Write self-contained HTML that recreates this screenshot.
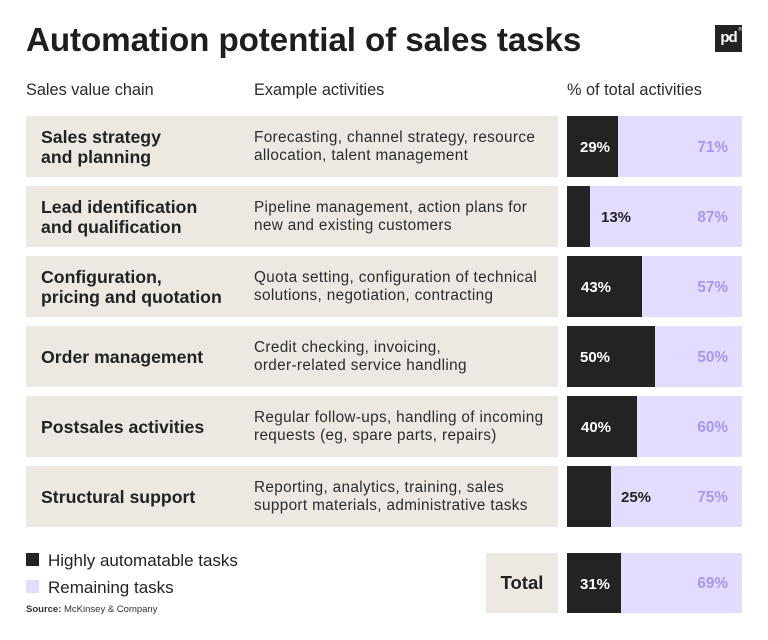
<!DOCTYPE html>
<html>
<head>
<meta charset="utf-8">
<style>
  html, body { margin:0; padding:0; background:#fff; }
  body { width:768px; height:640px; position:relative; overflow:hidden;
         font-family:"Liberation Sans", "DejaVu Sans", sans-serif; color:#222; }
  .abs { position:absolute; }
  .title { left:26px; top:22px; font-size:33.2px; font-weight:bold; letter-spacing:-0.1px; color:#1e1e1e; white-space:nowrap; }
  .logo { left:715px; top:25px; width:27px; height:27px; background:#232323; color:#fff;
          font-size:15px; font-weight:bold; text-align:center; line-height:25px; letter-spacing:-1px; }
  .logo sup { position:absolute; right:1px; top:-7px; font-size:5px; font-weight:normal; }
  .hdr { top:81px; font-size:16.3px; color:#2a2a2a; white-space:nowrap; }
  .cell { background:#ede9e2; }
  .lbl { left:26px; width:532px; height:61px; }
  .lbl .n { position:absolute; left:15px; top:0; height:61px; display:flex; align-items:center;
            font-size:17.7px; font-weight:bold; line-height:20px; color:#222; }
  .lbl .a { position:absolute; left:228px; top:0; height:61px; display:flex; align-items:center;
            font-size:15.3px; line-height:18px; letter-spacing:0.35px; color:#2b2b2b; }
  .bar { left:567px; width:175px; height:61px; background:#e4dcff; }
  .dk { position:absolute; left:0; top:0; height:100%; background:#232323; }
  .pw { position:absolute; top:1px; height:100%; display:flex; align-items:center; font-size:15px; font-weight:bold; }
  .pr { position:absolute; right:14px; top:1px; height:100%; display:flex; align-items:center; font-size:15.3px; font-weight:bold; color:#a597f1; }
  .leg { left:48px; font-size:17px; color:#222; white-space:nowrap; }
  .sq { left:26px; width:13px; height:13px; }
</style>
</head>
<body>
  <div class="abs title">Automation potential of sales tasks</div>
  <div class="abs logo">pd<sup>®</sup></div>

  <div class="abs hdr" style="left:26px;">Sales value chain</div>
  <div class="abs hdr" style="left:254px;">Example activities</div>
  <div class="abs hdr" style="left:567px;">% of total activities</div>

  <!-- Row 1 -->
  <div class="abs cell lbl" style="top:116px;">
    <div class="n">Sales strategy<br>and planning</div>
    <div class="a">Forecasting, channel strategy, resource<br>allocation, talent management</div>
  </div>
  <div class="abs bar" style="top:116px;">
    <div class="dk" style="width:51px;"></div>
    <div class="pw" style="left:13px;color:#fff;">29%</div>
    <div class="pr">71%</div>
  </div>

  <!-- Row 2 -->
  <div class="abs cell lbl" style="top:186px;">
    <div class="n">Lead identification<br>and qualification</div>
    <div class="a">Pipeline management, action plans for<br>new and existing customers</div>
  </div>
  <div class="abs bar" style="top:186px;">
    <div class="dk" style="width:23px;"></div>
    <div class="pw" style="left:34px;color:#222;">13%</div>
    <div class="pr">87%</div>
  </div>

  <!-- Row 3 -->
  <div class="abs cell lbl" style="top:256px;">
    <div class="n">Configuration,<br>pricing and quotation</div>
    <div class="a">Quota setting, configuration of technical<br>solutions, negotiation, contracting</div>
  </div>
  <div class="abs bar" style="top:256px;">
    <div class="dk" style="width:75px;"></div>
    <div class="pw" style="left:14px;color:#fff;">43%</div>
    <div class="pr">57%</div>
  </div>

  <!-- Row 4 -->
  <div class="abs cell lbl" style="top:326px;">
    <div class="n">Order management</div>
    <div class="a">Credit checking, invoicing,<br>order-related service handling</div>
  </div>
  <div class="abs bar" style="top:326px;">
    <div class="dk" style="width:88px;"></div>
    <div class="pw" style="left:13px;color:#fff;">50%</div>
    <div class="pr">50%</div>
  </div>

  <!-- Row 5 -->
  <div class="abs cell lbl" style="top:396px;">
    <div class="n">Postsales activities</div>
    <div class="a">Regular follow-ups, handling of incoming<br>requests (eg, spare parts, repairs)</div>
  </div>
  <div class="abs bar" style="top:396px;">
    <div class="dk" style="width:70px;"></div>
    <div class="pw" style="left:14px;color:#fff;">40%</div>
    <div class="pr">60%</div>
  </div>

  <!-- Row 6 -->
  <div class="abs cell lbl" style="top:466px;">
    <div class="n">Structural support</div>
    <div class="a">Reporting, analytics, training, sales<br>support materials, administrative tasks</div>
  </div>
  <div class="abs bar" style="top:466px;">
    <div class="dk" style="width:44px;"></div>
    <div class="pw" style="left:54px;color:#222;">25%</div>
    <div class="pr">75%</div>
  </div>

  <!-- Legend -->
  <div class="abs sq" style="top:553px;background:#232323;"></div>
  <div class="abs leg" style="top:551px;">Highly automatable tasks</div>
  <div class="abs sq" style="top:580px;background:#e4dcff;"></div>
  <div class="abs leg" style="top:578px;">Remaining tasks</div>
  <div class="abs" style="left:26px;top:604px;font-size:9.5px;color:#333;white-space:nowrap;"><b>Source:</b> McKinsey &amp; Company</div>

  <!-- Total -->
  <div class="abs cell" style="left:486px;top:553px;width:72px;height:60px;display:flex;align-items:center;justify-content:center;font-size:18.5px;font-weight:bold;color:#222;">Total</div>
  <div class="abs bar" style="top:553px;height:60px;">
    <div class="dk" style="width:54px;"></div>
    <div class="pw" style="left:13px;color:#fff;">31%</div>
    <div class="pr">69%</div>
  </div>
</body>
</html>
